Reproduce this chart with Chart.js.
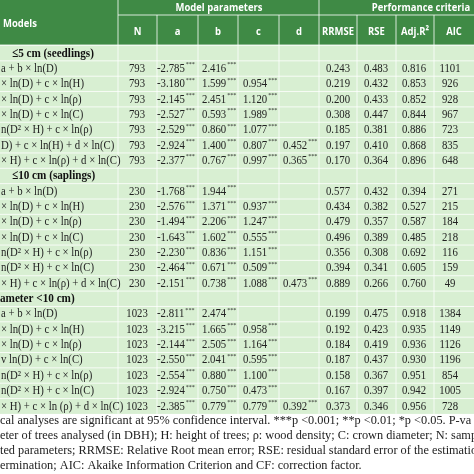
<!DOCTYPE html>
<html><head><meta charset="utf-8">
<script src="https://cdn.jsdelivr.net/npm/chart.js@4"></script>
<style>html,body{margin:0;padding:0;background:#fff}#c{width:474px;height:474px;display:block}</style>
</head><body><canvas id="c" width="474" height="474"></canvas>
<script>
const groups=["≤5 cm (seedlings)","≤10 cm (saplings)","ameter <10 cm)"];
const models=[
["a + b × ln(D)","× ln(D) + c × ln(H)","× ln(D) + c × ln(ρ)","× ln(D) + c × ln(C)","n(D² × H) + c × ln(ρ)","D) + c × ln(H) + d × ln(C)","× H) + c × ln(ρ) + d × ln(C)"],
["a + b × ln(D)","× ln(D) + c × ln(H)","× ln(D) + c × ln(ρ)","× ln(D) + c × ln(C)","n(D² × H) + c × ln(ρ)","n(D² × H) + c × ln(C)","× H) + c × ln(ρ) + d × ln(C)"],
["a + b × ln(D)","× ln(D) + c × ln(H)","× ln(D) + c × ln(ρ)","v ln(D) + c × ln(C)","n(D² × H) + c × ln(ρ)","n(D² × H) + c × ln(C)","× H) + c × ln (ρ) + d × ln(C)"]];
const N=[793,230,1023];
const A=[[-2.785,-3.180,-2.145,-2.527,-2.529,-2.924,-2.377],[-1.768,-2.576,-1.494,-1.643,-2.230,-2.464,-2.151],[-2.811,-3.215,-2.144,-2.550,-2.554,-2.924,-2.385]];
const B=[[2.416,1.599,2.451,0.593,0.860,1.400,0.767],[1.944,1.371,2.206,1.602,0.836,0.671,0.738],[2.474,1.665,2.505,2.041,0.880,0.750,0.779]];
const C=[[null,0.954,1.120,1.989,1.077,0.807,0.997],[null,0.937,1.247,0.555,1.151,0.509,1.088],[null,0.958,1.164,0.595,1.100,0.473,0.779]];
const D=[[null,null,null,null,null,0.452,0.365],[null,null,null,null,null,null,0.473],[null,null,null,null,null,null,0.392]];
const RRMSE=[[0.243,0.219,0.200,0.308,0.185,0.197,0.170],[0.577,0.434,0.479,0.496,0.356,0.394,0.889],[0.199,0.192,0.184,0.187,0.158,0.167,0.373]];
const RSE=[[0.483,0.432,0.433,0.447,0.381,0.410,0.364],[0.432,0.382,0.357,0.389,0.308,0.341,0.266],[0.475,0.423,0.419,0.437,0.367,0.397,0.346]];
const ADJ=[[0.816,0.853,0.852,0.844,0.886,0.868,0.896],[0.394,0.527,0.587,0.485,0.692,0.605,0.760],[0.918,0.935,0.936,0.930,0.951,0.942,0.956]];
const AIC=[[1101,926,928,967,723,835,648],[271,215,184,218,116,159,49],[1384,1149,1126,1196,854,1005,728]];
const headers=["N","a","b","c","d","RRMSE","RSE","Adj.R²","AIC"];
const notes=["cal analyses are significant at 95% confidence interval. ***p <0.001; **p <0.01; *p <0.05. P-va",
"eter of trees analysed (in DBH); H: height of trees; ρ: wood density; C: crown diameter; N: sample",
"ted parameters; RRMSE: Relative Root mean error; RSE: residual standard error of the estimation",
"ermination; AIC: Akaike Information Criterion and CF: correction factor."];

const colX=[118,157,198,238,279,319,357,396,434,474];
const rowH=15.35, bodyTop=45.5, SX=0.86;
const tablePlugin={id:'table',afterDraw(ch){
 const ctx=ch.ctx, xs=ch.scales.x, ys=ch.scales.y;
 const X=v=>xs.getPixelForValue(v), Y=v=>ys.getPixelForValue(v);
 const txt=(t,x,y,align)=>{ctx.save();ctx.translate(x,y);ctx.scale(SX,1);ctx.textAlign=align;ctx.fillText(t,0,0);const w=ctx.measureText(t).width*SX;ctx.restore();return w;};
 ctx.save();
 ctx.fillStyle='#3f8a45'; ctx.fillRect(X(0),Y(0),X(474)-X(0),Y(45)-Y(0));
 const bodyBot=bodyTop+24*rowH;
 ctx.fillStyle='#d8efd2'; ctx.fillRect(X(0),Y(bodyTop),X(474),Y(bodyBot)-Y(bodyTop));
 ctx.strokeStyle='rgba(255,255,255,0.8)'; ctx.lineWidth=1;
 ctx.beginPath();
 colX.slice(0,9).forEach((x,i)=>{const top=(i===0||i===5)?0:15;ctx.moveTo(X(x),Y(top));ctx.lineTo(X(x),Y(bodyBot));});
 ctx.moveTo(X(118),Y(15));ctx.lineTo(X(474),Y(15));
 ctx.moveTo(X(0),Y(45));ctx.lineTo(X(474),Y(45));
 for(let r=1;r<24;r++){ctx.moveTo(X(0),Y(bodyTop+r*rowH));ctx.lineTo(X(474),Y(bodyTop+r*rowH));}
 ctx.stroke();
 ctx.fillStyle='#fff'; ctx.font='bold 11px "Open Sans"'; ctx.textBaseline='middle';
 txt('Model parameters',X(219),Y(8),'center');
 txt('Performance criteria',X(421),Y(8),'center');
 headers.forEach((h,i)=>txt(h,X((colX[i]+colX[i+1])/2),Y(32),'center'));
 txt('Models',X(3),Y(24),'left');
 const f3=v=>v.toFixed(3);
 let r=0;
 for(let g=0;g<3;g++){
  const yc=Y(bodyTop+(r+0.5)*rowH);
  ctx.fillStyle='#111'; ctx.font='bold 13px "Liberation Serif"';
  txt(groups[g],X(g===2?0:12),yc,'left'); r++;
  for(let i=0;i<7;i++){
   const y=Y(bodyTop+(r+0.5)*rowH);
   ctx.font='12.5px "Liberation Serif"'; ctx.fillStyle='#222';
   txt(models[g][i],X(1),y,'left');
   txt(String(N[g]),X(137),y,'center');
   const star=(v,x)=>{if(v==null)return;ctx.font='12.5px "Liberation Serif"';const w=txt(f3(v),X(x),y,'left');ctx.font='7px "Liberation Serif"';txt('***',X(x)+w+1,y-4,'left');};
   star(A[g][i],157);star(B[g][i],202);star(C[g][i],243);star(D[g][i],283);
   ctx.font='12.5px "Liberation Serif"';
   txt(f3(RRMSE[g][i]),X(338),y,'center');txt(f3(RSE[g][i]),X(376),y,'center');
   txt(f3(ADJ[g][i]),X(414),y,'center');txt(String(AIC[g][i]),X(450),y,'center');
   r++;
  }
 }
 ctx.fillStyle='#222'; ctx.font='12.3px "Liberation Serif"'; ctx.textAlign='left';
 notes.forEach((n,i)=>ctx.fillText(n,X(0),Y(421+i*15)));
 ctx.restore();
}};
new Chart(document.getElementById('c'),{type:'scatter',data:{datasets:[{data:[],pointRadius:0}]},
options:{responsive:false,animation:false,layout:{padding:0},plugins:{legend:{display:false},tooltip:{enabled:false}},
scales:{x:{type:'linear',min:0,max:474,display:false},y:{type:'linear',min:0,max:474,reverse:true,display:false}}},
plugins:[tablePlugin]});
</script></body></html>
